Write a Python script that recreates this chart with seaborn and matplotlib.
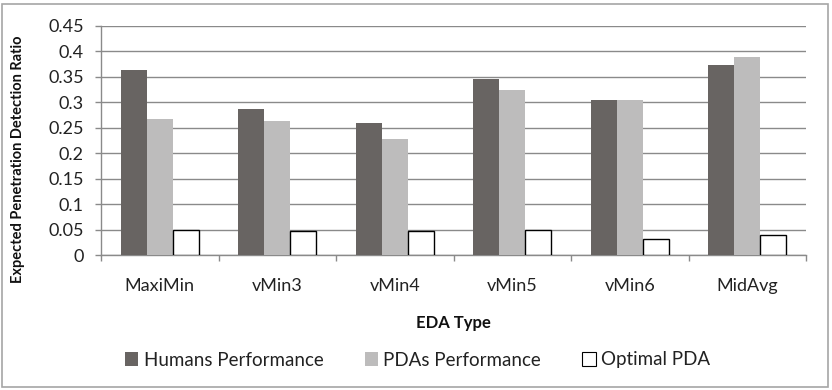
import matplotlib
matplotlib.use("Agg")
import matplotlib.pyplot as plt
from matplotlib.patches import Patch, Rectangle
import seaborn as sns
import pandas as pd

categories = ["MaxiMin", "vMin3", "vMin4", "vMin5", "vMin6", "MidAvg"]
humans = [0.363, 0.287, 0.259, 0.346, 0.304, 0.374]
pdas = [0.267, 0.263, 0.228, 0.324, 0.304, 0.389]
optimal = [0.050, 0.048, 0.048, 0.050, 0.032, 0.040]
series = ["Humans Performance", "PDAs Performance", "Optimal PDA"]
ytick_vals = [0, 0.05, 0.1, 0.15, 0.2, 0.25, 0.3, 0.35, 0.4, 0.45]
ytick_labels = ["0", "0.05", "0.1", "0.15", "0.2", "0.25", "0.3", "0.35", "0.4", "0.45"]

df = pd.DataFrame({
    "EDA Type": categories * 3,
    "value": humans + pdas + optimal,
    "series": [series[0]] * 6 + [series[1]] * 6 + [series[2]] * 6,
})

colors = {series[0]: "#686462", series[1]: "#bdbcbc", series[2]: "#ffffff"}

sns.set_theme(style="white")
plt.rcParams["font.family"] = ["Lato", "DejaVu Sans"]

fig = plt.figure(figsize=(8.32, 3.90), dpi=100)
ax = fig.add_axes([101 / 832, 1 - 255.3 / 390, 705 / 832, 229.3 / 390])

sns.barplot(data=df, x="EDA Type", y="value", hue="series", order=categories,
            hue_order=series, palette=colors, width=0.664, saturation=1,
            linewidth=0, legend=False, ax=ax, zorder=3)

for p in ax.containers[2]:
    p.set_edgecolor("black")
    p.set_linewidth(1.0)

grid_c = "#8a8a8a"
ax.set_ylim(0, 0.45)
ax.set_xlim(-0.5, 5.5)
ax.set_yticks(ytick_vals)
ax.set_yticklabels(ytick_labels)
ax.yaxis.grid(True, color=grid_c, linewidth=1.0, zorder=0)
ax.set_axisbelow(True)
for s in ["top", "right"]:
    ax.spines[s].set_visible(False)
for s in ["left", "bottom"]:
    ax.spines[s].set_color(grid_c)
    ax.spines[s].set_linewidth(1.0)

ax.tick_params(axis="y", which="major", length=4.5, width=1.0, color=grid_c,
               direction="out", labelsize=13, pad=8, labelcolor="#222222", left=True)
ax.set_xticks(range(len(categories)))
ax.set_xticklabels(categories)
ax.set_xticks([i - 0.5 for i in range(len(categories) + 1)], minor=True)
ax.tick_params(axis="x", which="major", length=0, labelsize=13, pad=16, labelcolor="#222222")
ax.tick_params(axis="x", which="minor", length=4.5, width=1.0, color=grid_c,
               direction="out", bottom=True)

ax.set_xlabel("EDA Type", fontsize=12, fontweight="bold", color="#111111")
ax.xaxis.set_label_coords(0.5, -0.262)
ax.set_ylabel("Expected Penetration Detection Ratio", fontsize=10.5,
              fontweight="bold", color="#111111")
ax.yaxis.set_label_coords(-0.108, 0.42)

handles = [Patch(facecolor=colors[s], edgecolor=("black" if s == series[2] else colors[s]),
                 linewidth=(0.8 if s == series[2] else 0), label=s) for s in series]
fig.legend(handles=handles, loc="center", bbox_to_anchor=(0.502, 1 - 360 / 390),
           ncol=3, frameon=False, fontsize=13.5, handlelength=0.7, handleheight=0.7,
           handletextpad=0.3, columnspacing=2.2, labelcolor="#222222")

fig.patches.append(Rectangle((2 / 832, 3 / 390), 826 / 832, 383 / 390,
                             transform=fig.transFigure, fill=False,
                             edgecolor="#a6a6a6", linewidth=1.2))

fig.savefig("out.png", dpi=100)
